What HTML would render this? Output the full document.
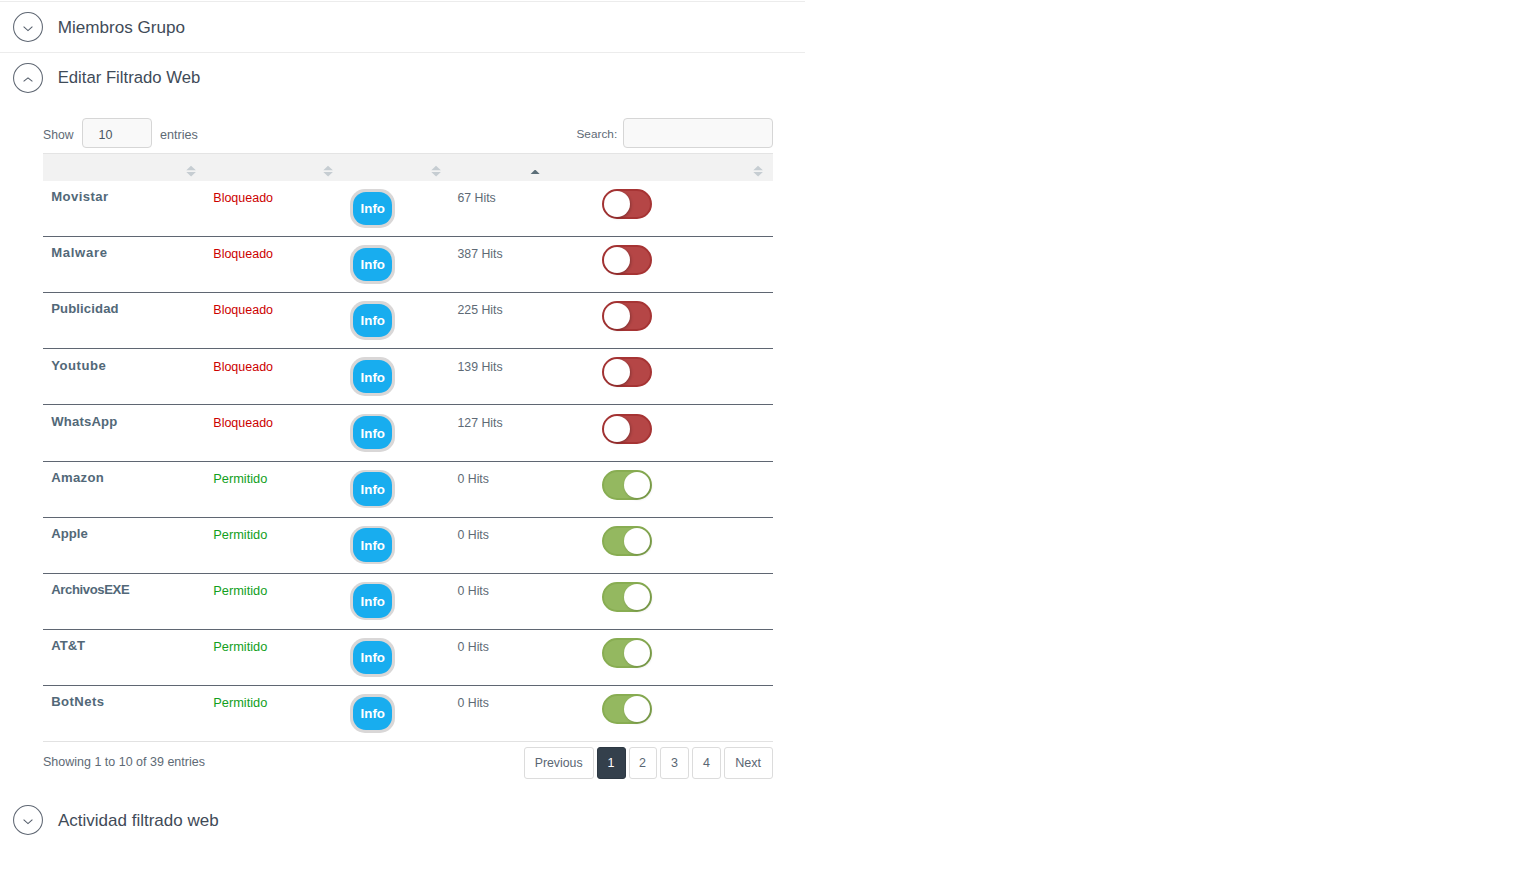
<!DOCTYPE html>
<html><head><meta charset="utf-8"><style>
html,body{margin:0;padding:0;background:#fff;width:1535px;height:885px;overflow:hidden;position:relative}
.t{position:absolute;white-space:nowrap;line-height:1;font-family:"Liberation Sans", sans-serif}
.b{position:absolute}
</style></head><body>
<div class="b" style="left:0px;top:1px;width:805px;height:1px;background:#ececec"></div>
<div class="b" style="left:0px;top:52px;width:805px;height:1px;background:#ececec"></div>
<svg class="b" style="left:0;top:6.85px" width="60" height="40" viewBox="0 6.85 60 40"><circle cx="28" cy="26.85" r="14.45" fill="none" stroke="#5f6773" stroke-width="1.05"/><path d="M23.6 26.50 L28 30.45 L32.4 26.50" fill="none" stroke="#545d6a" stroke-width="1.05"/></svg>
<svg class="b" style="left:0;top:57.80px" width="60" height="40" viewBox="0 57.80 60 40"><circle cx="28" cy="77.80" r="14.45" fill="none" stroke="#5f6773" stroke-width="1.05"/><path d="M23.6 81.20 L28 77.70 L32.4 81.20" fill="none" stroke="#545d6a" stroke-width="1.05"/></svg>
<svg class="b" style="left:0;top:799.80px" width="60" height="40" viewBox="0 799.80 60 40"><circle cx="28" cy="819.80" r="14.45" fill="none" stroke="#5f6773" stroke-width="1.05"/><path d="M23.6 819.45 L28 823.40 L32.4 819.45" fill="none" stroke="#545d6a" stroke-width="1.05"/></svg>
<div class="t" style="left:57.70px;top:18.72px;font-size:17.1px;color:#3f4b58;">Miembros Grupo</div>
<div class="t" style="left:57.70px;top:69.66px;font-size:16.7px;color:#3f4b58;">Editar Filtrado Web</div>
<div class="t" style="left:58.00px;top:811.61px;font-size:17px;color:#3f4b58;">Actividad filtrado web</div>
<div class="t" style="left:43.00px;top:128.67px;font-size:12.2px;color:#5e6a75;">Show</div>
<div class="b" style="left:82px;top:118px;width:70px;height:30px;box-sizing:border-box;border:1px solid #d6d6d6;border-radius:4px;background:#f9f9f9"></div>
<div class="t" style="left:98.50px;top:129.42px;font-size:12.5px;color:#4a5562;">10</div>
<div class="t" style="left:160.00px;top:129.33px;font-size:12.6px;color:#5e6a75;">entries</div>
<div class="t" style="left:576.50px;top:128.71px;font-size:11.8px;color:#5e6a75;">Search:</div>
<div class="b" style="left:623px;top:118px;width:150px;height:30px;box-sizing:border-box;border:1px solid #d6d6d6;border-radius:4px;background:#f9f9f9"></div>
<div class="b" style="left:43px;top:153px;width:730px;height:28px;background:#f2f2f2;border-top:1px solid #e4e4e4;box-sizing:border-box"></div>
<svg class="b" style="left:186.0px;top:165px" width="10" height="13"><path d="M0.3 5.3 L5 0.8 L9.9 5.3 Z M0.3 7 L9.9 7 L5.1 11.5 Z" fill="#c6cdd2"/></svg>
<svg class="b" style="left:323.0px;top:165px" width="10" height="13"><path d="M0.3 5.3 L5 0.8 L9.9 5.3 Z M0.3 7 L9.9 7 L5.1 11.5 Z" fill="#c6cdd2"/></svg>
<svg class="b" style="left:430.8px;top:165px" width="10" height="13"><path d="M0.3 5.3 L5 0.8 L9.9 5.3 Z M0.3 7 L9.9 7 L5.1 11.5 Z" fill="#c6cdd2"/></svg>
<svg class="b" style="left:753.2px;top:165px" width="10" height="13"><path d="M0.3 5.3 L5 0.8 L9.9 5.3 Z M0.3 7 L9.9 7 L5.1 11.5 Z" fill="#c6cdd2"/></svg>
<svg class="b" style="left:529.8px;top:169px" width="11" height="7"><path d="M0.6 5.1 L4.6 1 L5.6 1 L9.6 5.1 Z" fill="#5b6e78"/></svg>
<div class="b" style="left:43px;top:236px;width:730px;height:1px;background:#5f6672"></div>
<div class="t" style="left:51.20px;top:190.11px;font-size:13.1px;color:#526878;font-weight:700;letter-spacing:0.44px">Movistar</div>
<div class="t" style="left:213.30px;top:192.22px;font-size:12.5px;color:#cc0000;">Bloqueado</div>
<div class="b" style="left:350px;top:189.000px;width:44.5px;height:38.5px;border-radius:15px;background:#d9d7d7"></div>
<div class="b" style="left:352.7px;top:191.600px;width:39.4px;height:33.4px;border-radius:13px;background:#18adef"></div>
<div class="t" style="left:360.60px;top:202.04px;font-size:13.3px;color:#ffffff;font-weight:700;">Info</div>
<div class="t" style="left:457.50px;top:192.39px;font-size:12.3px;color:#5e6a75;">67 Hits</div>
<div class="b" style="left:602px;top:189.000px;width:50px;height:30px;box-sizing:border-box;border-radius:15px;background:#b54646;border:2px solid #a63434"></div>
<div class="b" style="left:604px;top:191.000px;width:26px;height:26px;border-radius:50%;background:#fff;box-shadow:1px 1px 3px rgba(0,0,0,0.25)"></div>
<div class="b" style="left:43px;top:292px;width:730px;height:1px;background:#5f6672"></div>
<div class="t" style="left:51.20px;top:246.11px;font-size:13.1px;color:#526878;font-weight:700;letter-spacing:0.7px">Malware</div>
<div class="t" style="left:213.30px;top:248.22px;font-size:12.5px;color:#cc0000;">Bloqueado</div>
<div class="b" style="left:350px;top:245.125px;width:44.5px;height:38.5px;border-radius:15px;background:#d9d7d7"></div>
<div class="b" style="left:352.7px;top:247.725px;width:39.4px;height:33.4px;border-radius:13px;background:#18adef"></div>
<div class="t" style="left:360.60px;top:258.04px;font-size:13.3px;color:#ffffff;font-weight:700;">Info</div>
<div class="t" style="left:457.50px;top:248.39px;font-size:12.3px;color:#5e6a75;">387 Hits</div>
<div class="b" style="left:602px;top:245.125px;width:50px;height:30px;box-sizing:border-box;border-radius:15px;background:#b54646;border:2px solid #a63434"></div>
<div class="b" style="left:604px;top:247.125px;width:26px;height:26px;border-radius:50%;background:#fff;box-shadow:1px 1px 3px rgba(0,0,0,0.25)"></div>
<div class="b" style="left:43px;top:348px;width:730px;height:1px;background:#5f6672"></div>
<div class="t" style="left:51.20px;top:302.11px;font-size:13.1px;color:#526878;font-weight:700;letter-spacing:0.13px">Publicidad</div>
<div class="t" style="left:213.30px;top:304.22px;font-size:12.5px;color:#cc0000;">Bloqueado</div>
<div class="b" style="left:350px;top:301.250px;width:44.5px;height:38.5px;border-radius:15px;background:#d9d7d7"></div>
<div class="b" style="left:352.7px;top:303.850px;width:39.4px;height:33.4px;border-radius:13px;background:#18adef"></div>
<div class="t" style="left:360.60px;top:314.04px;font-size:13.3px;color:#ffffff;font-weight:700;">Info</div>
<div class="t" style="left:457.50px;top:304.39px;font-size:12.3px;color:#5e6a75;">225 Hits</div>
<div class="b" style="left:602px;top:301.250px;width:50px;height:30px;box-sizing:border-box;border-radius:15px;background:#b54646;border:2px solid #a63434"></div>
<div class="b" style="left:604px;top:303.250px;width:26px;height:26px;border-radius:50%;background:#fff;box-shadow:1px 1px 3px rgba(0,0,0,0.25)"></div>
<div class="b" style="left:43px;top:404px;width:730px;height:1px;background:#5f6672"></div>
<div class="t" style="left:51.20px;top:359.11px;font-size:13.1px;color:#526878;font-weight:700;letter-spacing:0.52px">Youtube</div>
<div class="t" style="left:213.30px;top:361.22px;font-size:12.5px;color:#cc0000;">Bloqueado</div>
<div class="b" style="left:350px;top:357.375px;width:44.5px;height:38.5px;border-radius:15px;background:#d9d7d7"></div>
<div class="b" style="left:352.7px;top:359.975px;width:39.4px;height:33.4px;border-radius:13px;background:#18adef"></div>
<div class="t" style="left:360.60px;top:371.04px;font-size:13.3px;color:#ffffff;font-weight:700;">Info</div>
<div class="t" style="left:457.50px;top:361.39px;font-size:12.3px;color:#5e6a75;">139 Hits</div>
<div class="b" style="left:602px;top:357.375px;width:50px;height:30px;box-sizing:border-box;border-radius:15px;background:#b54646;border:2px solid #a63434"></div>
<div class="b" style="left:604px;top:359.375px;width:26px;height:26px;border-radius:50%;background:#fff;box-shadow:1px 1px 3px rgba(0,0,0,0.25)"></div>
<div class="b" style="left:43px;top:461px;width:730px;height:1px;background:#5f6672"></div>
<div class="t" style="left:51.20px;top:415.11px;font-size:13.1px;color:#526878;font-weight:700;letter-spacing:0.19px">WhatsApp</div>
<div class="t" style="left:213.30px;top:417.22px;font-size:12.5px;color:#cc0000;">Bloqueado</div>
<div class="b" style="left:350px;top:413.500px;width:44.5px;height:38.5px;border-radius:15px;background:#d9d7d7"></div>
<div class="b" style="left:352.7px;top:416.100px;width:39.4px;height:33.4px;border-radius:13px;background:#18adef"></div>
<div class="t" style="left:360.60px;top:427.04px;font-size:13.3px;color:#ffffff;font-weight:700;">Info</div>
<div class="t" style="left:457.50px;top:417.39px;font-size:12.3px;color:#5e6a75;">127 Hits</div>
<div class="b" style="left:602px;top:413.500px;width:50px;height:30px;box-sizing:border-box;border-radius:15px;background:#b54646;border:2px solid #a63434"></div>
<div class="b" style="left:604px;top:415.500px;width:26px;height:26px;border-radius:50%;background:#fff;box-shadow:1px 1px 3px rgba(0,0,0,0.25)"></div>
<div class="b" style="left:43px;top:517px;width:730px;height:1px;background:#5f6672"></div>
<div class="t" style="left:51.20px;top:471.11px;font-size:13.1px;color:#526878;font-weight:700;letter-spacing:0.35px">Amazon</div>
<div class="t" style="left:213.30px;top:472.96px;font-size:12.8px;color:#12a01c;">Permitido</div>
<div class="b" style="left:350px;top:469.625px;width:44.5px;height:38.5px;border-radius:15px;background:#d9d7d7"></div>
<div class="b" style="left:352.7px;top:472.225px;width:39.4px;height:33.4px;border-radius:13px;background:#18adef"></div>
<div class="t" style="left:360.60px;top:483.04px;font-size:13.3px;color:#ffffff;font-weight:700;">Info</div>
<div class="t" style="left:457.50px;top:473.39px;font-size:12.3px;color:#5e6a75;">0 Hits</div>
<div class="b" style="left:602px;top:469.625px;width:50px;height:30px;box-sizing:border-box;border-radius:15px;background:#94b860;border:2px solid #88ad52"></div>
<div class="b" style="left:624px;top:471.625px;width:26px;height:26px;border-radius:50%;background:#fff;box-shadow:1px 1px 3px rgba(0,0,0,0.2)"></div>
<div class="b" style="left:43px;top:573px;width:730px;height:1px;background:#5f6672"></div>
<div class="t" style="left:51.20px;top:527.11px;font-size:13.1px;color:#526878;font-weight:700;letter-spacing:0.05px">Apple</div>
<div class="t" style="left:213.30px;top:528.96px;font-size:12.8px;color:#12a01c;">Permitido</div>
<div class="b" style="left:350px;top:525.750px;width:44.5px;height:38.5px;border-radius:15px;background:#d9d7d7"></div>
<div class="b" style="left:352.7px;top:528.350px;width:39.4px;height:33.4px;border-radius:13px;background:#18adef"></div>
<div class="t" style="left:360.60px;top:539.04px;font-size:13.3px;color:#ffffff;font-weight:700;">Info</div>
<div class="t" style="left:457.50px;top:529.39px;font-size:12.3px;color:#5e6a75;">0 Hits</div>
<div class="b" style="left:602px;top:525.750px;width:50px;height:30px;box-sizing:border-box;border-radius:15px;background:#94b860;border:2px solid #88ad52"></div>
<div class="b" style="left:624px;top:527.750px;width:26px;height:26px;border-radius:50%;background:#fff;box-shadow:1px 1px 3px rgba(0,0,0,0.2)"></div>
<div class="b" style="left:43px;top:629px;width:730px;height:1px;background:#5f6672"></div>
<div class="t" style="left:51.20px;top:583.11px;font-size:13.1px;color:#526878;font-weight:700;letter-spacing:-0.38px">ArchivosEXE</div>
<div class="t" style="left:213.30px;top:584.96px;font-size:12.8px;color:#12a01c;">Permitido</div>
<div class="b" style="left:350px;top:581.875px;width:44.5px;height:38.5px;border-radius:15px;background:#d9d7d7"></div>
<div class="b" style="left:352.7px;top:584.475px;width:39.4px;height:33.4px;border-radius:13px;background:#18adef"></div>
<div class="t" style="left:360.60px;top:595.04px;font-size:13.3px;color:#ffffff;font-weight:700;">Info</div>
<div class="t" style="left:457.50px;top:585.39px;font-size:12.3px;color:#5e6a75;">0 Hits</div>
<div class="b" style="left:602px;top:581.875px;width:50px;height:30px;box-sizing:border-box;border-radius:15px;background:#94b860;border:2px solid #88ad52"></div>
<div class="b" style="left:624px;top:583.875px;width:26px;height:26px;border-radius:50%;background:#fff;box-shadow:1px 1px 3px rgba(0,0,0,0.2)"></div>
<div class="b" style="left:43px;top:685px;width:730px;height:1px;background:#5f6672"></div>
<div class="t" style="left:51.20px;top:639.11px;font-size:13.1px;color:#526878;font-weight:700;letter-spacing:-0.02px">AT&amp;T</div>
<div class="t" style="left:213.30px;top:640.96px;font-size:12.8px;color:#12a01c;">Permitido</div>
<div class="b" style="left:350px;top:638.000px;width:44.5px;height:38.5px;border-radius:15px;background:#d9d7d7"></div>
<div class="b" style="left:352.7px;top:640.600px;width:39.4px;height:33.4px;border-radius:13px;background:#18adef"></div>
<div class="t" style="left:360.60px;top:651.04px;font-size:13.3px;color:#ffffff;font-weight:700;">Info</div>
<div class="t" style="left:457.50px;top:641.39px;font-size:12.3px;color:#5e6a75;">0 Hits</div>
<div class="b" style="left:602px;top:638.000px;width:50px;height:30px;box-sizing:border-box;border-radius:15px;background:#94b860;border:2px solid #88ad52"></div>
<div class="b" style="left:624px;top:640.000px;width:26px;height:26px;border-radius:50%;background:#fff;box-shadow:1px 1px 3px rgba(0,0,0,0.2)"></div>
<div class="b" style="left:43px;top:741px;width:730px;height:1px;background:#e2e2e2"></div>
<div class="t" style="left:51.20px;top:695.11px;font-size:13.1px;color:#526878;font-weight:700;letter-spacing:0.43px">BotNets</div>
<div class="t" style="left:213.30px;top:696.96px;font-size:12.8px;color:#12a01c;">Permitido</div>
<div class="b" style="left:350px;top:694.125px;width:44.5px;height:38.5px;border-radius:15px;background:#d9d7d7"></div>
<div class="b" style="left:352.7px;top:696.725px;width:39.4px;height:33.4px;border-radius:13px;background:#18adef"></div>
<div class="t" style="left:360.60px;top:707.04px;font-size:13.3px;color:#ffffff;font-weight:700;">Info</div>
<div class="t" style="left:457.50px;top:697.39px;font-size:12.3px;color:#5e6a75;">0 Hits</div>
<div class="b" style="left:602px;top:694.125px;width:50px;height:30px;box-sizing:border-box;border-radius:15px;background:#94b860;border:2px solid #88ad52"></div>
<div class="b" style="left:624px;top:696.125px;width:26px;height:26px;border-radius:50%;background:#fff;box-shadow:1px 1px 3px rgba(0,0,0,0.2)"></div>
<div class="t" style="left:43.00px;top:756.42px;font-size:12.5px;color:#5e6a75;">Showing 1 to 10 of 39 entries</div>
<div class="b" style="left:524px;top:747px;width:70px;height:32px;box-sizing:border-box;border-radius:3px;background:#fff;border:1px solid #dcdcdc"></div>
<div class="t" style="left:534.70px;top:756.59px;font-size:12.3px;color:#5a6673;">Previous</div>
<div class="b" style="left:597px;top:747px;width:29px;height:32px;box-sizing:border-box;border-radius:3px;background:#34404c;border:1px solid #2d3843"></div>
<div class="t" style="left:607.50px;top:757.42px;font-size:12.5px;color:#fff;">1</div>
<div class="b" style="left:629px;top:747px;width:28px;height:32px;box-sizing:border-box;border-radius:3px;background:#fff;border:1px solid #dcdcdc"></div>
<div class="t" style="left:639.00px;top:757.42px;font-size:12.5px;color:#5a6673;">2</div>
<div class="b" style="left:660px;top:747px;width:29px;height:32px;box-sizing:border-box;border-radius:3px;background:#fff;border:1px solid #dcdcdc"></div>
<div class="t" style="left:671.00px;top:757.42px;font-size:12.5px;color:#5a6673;">3</div>
<div class="b" style="left:692px;top:747px;width:29px;height:32px;box-sizing:border-box;border-radius:3px;background:#fff;border:1px solid #dcdcdc"></div>
<div class="t" style="left:703.00px;top:757.42px;font-size:12.5px;color:#5a6673;">4</div>
<div class="b" style="left:724px;top:747px;width:49px;height:32px;box-sizing:border-box;border-radius:3px;background:#fff;border:1px solid #dcdcdc"></div>
<div class="t" style="left:735.20px;top:757.33px;font-size:12.6px;color:#5a6673;">Next</div>
</body></html>
